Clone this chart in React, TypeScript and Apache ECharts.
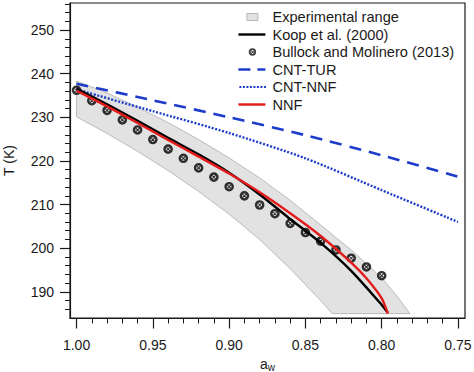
import React, { useEffect, useRef } from 'react';
import * as echarts from 'echarts';

// ---- data ----
const bmAw = [1.0, 0.99, 0.98, 0.97, 0.96, 0.95, 0.94, 0.93, 0.92, 0.91, 0.9, 0.89, 0.88, 0.87, 0.86, 0.85, 0.84, 0.83, 0.82, 0.81, 0.8];
const bmT = [236.2, 233.8, 231.6, 229.4, 227.1, 224.9, 222.7, 220.6, 218.4, 216.3, 214.1, 212.0, 209.9, 207.9, 205.7, 203.6, 201.6, 199.6, 197.7, 195.7, 193.7];

const koopAw = [1.0, 0.98, 0.96, 0.94, 0.92, 0.9, 0.88, 0.86, 0.84, 0.82, 0.8, 0.796];
const koopT = [236.6, 233.0, 229.2, 225.3, 221.5, 217.3, 212.3, 206.7, 201.2, 194.8, 187.0, 185.2];

const nnfAw = [1.0, 0.98, 0.96, 0.94, 0.92, 0.9, 0.88, 0.86, 0.84, 0.82, 0.81, 0.8, 0.796];
const nnfT = [236.1, 232.5, 228.7, 224.8, 221.0, 217.1, 212.8, 208.0, 202.8, 196.7, 193.1, 188.5, 185.0];

const turAw = [1.0, 0.95, 0.9, 0.85, 0.8, 0.75];
const turT = [237.7, 233.9, 230.0, 225.9, 221.3, 216.4];

const cntNnfAw = [1.0, 0.95, 0.9, 0.85, 0.8, 0.75];
const cntNnfT = [236.4, 231.4, 226.4, 220.6, 213.3, 206.0];

const bandUpAw = [1.0, 0.98, 0.96, 0.94, 0.92, 0.9, 0.88, 0.86, 0.84, 0.82, 0.8, 0.79, 0.7815];
const bandUpT = [238.3, 235.6, 232.3, 228.8, 224.9, 220.7, 216.1, 211.0, 205.3, 199.6, 193.2, 189.0, 185.0];
const bandLowAw = [1.0, 0.98, 0.96, 0.94, 0.92, 0.9, 0.88, 0.86, 0.84, 0.8325];
const bandLowT = [230.1, 226.3, 222.2, 217.8, 213.0, 207.8, 202.0, 195.3, 188.0, 185.0];

const xMajor = [1.0, 0.95, 0.9, 0.85, 0.8, 0.75];
const xMinor = [1.0, 0.99, 0.98, 0.97, 0.96, 0.95, 0.94, 0.93, 0.92, 0.91, 0.9, 0.89, 0.88, 0.87, 0.86, 0.85, 0.84, 0.83, 0.82, 0.81, 0.8, 0.79, 0.78, 0.77, 0.76, 0.75];
const yMajor = [190, 200, 210, 220, 230, 240, 250];
const yMinor = [186, 188, 190, 192, 194, 196, 198, 200, 202, 204, 206, 208, 210, 212, 214, 216, 218, 220, 222, 224, 226, 228, 230, 232, 234, 236, 238, 240, 242, 244, 246, 248, 250, 252, 254, 256];

const names = ['Experimental range', 'Koop et al. (2000)', 'Bullock and Molinero (2013)', 'CNT-TUR', 'CNT-NNF', 'NNF'];

const zip = (a: number[], b: number[]) => a.map((v, i) => [v, b[i]]);

const FONT = 'Liberation Sans, Arial, Helvetica, sans-serif';
const INK = '#1a1a1a';
const BLUE = '#1d3ccb';
const RED = '#e41b1b';

const markerPath =
  'path://M5,0.2 A4.8,4.8 0 1,1 5,9.8 A4.8,4.8 0 1,1 5,0.2 Z M5,2.6 A2.4,2.4 0 1,0 5,7.4 A2.4,2.4 0 1,0 5,2.6 Z M3.6,2.9 L7.1,6.4 L6.4,7.1 L2.9,3.6 Z M6.4,2.9 L7.1,3.6 L3.6,7.1 L2.9,6.4 Z';

const iconBox = 'path://M0,0 M30,14 M9.5,3.5 L20.5,3.5 L20.5,10.5 L9.5,10.5 Z';
const iconLine = 'path://M0,0 M30,14 M1,5.8 L28,5.8 L28,8.2 L1,8.2 Z';
const iconDash = 'path://M0,0 M30,14 M1,5.8 L13,5.8 L13,8.2 L1,8.2 Z M20,5.8 L28,5.8 L28,8.2 L20,8.2 Z';
const iconDot =
  'path://M0,0 M30,14 M2,6 L4,6 L4,8 L2,8 Z M5.5,6 L7.5,6 L7.5,8 L5.5,8 Z M9,6 L11,6 L11,8 L9,8 Z M12.5,6 L14.5,6 L14.5,8 L12.5,8 Z M16,6 L18,6 L18,8 L16,8 Z M19.5,6 L21.5,6 L21.5,8 L19.5,8 Z M23,6 L25,6 L25,8 L23,8 Z M26.5,6 L28.5,6 L28.5,8 L26.5,8 Z';
const iconMarker =
  'path://M0,0 M30,14 M15,3.3 A3.7,3.7 0 1,1 15,10.7 A3.7,3.7 0 1,1 15,3.3 Z M15,5.1 A1.9,1.9 0 1,0 15,8.9 A1.9,1.9 0 1,0 15,5.1 Z M14.0,5.4 L16.9,8.3 L16.3,8.9 L13.4,6.0 Z M16.3,5.4 L16.9,6.0 L14.0,8.9 L13.4,8.3 Z';

const xRange = { min: 0.7454, max: 1.0043 };
const yRange = { min: 184, max: 256.2 };

const option: any = {
  animation: false,
  backgroundColor: '#ffffff',
  textStyle: { fontFamily: FONT },
  grid: {
    left: 70,
    right: 9,
    top: 3,
    bottom: 54,
    outerBoundsMode: 'none',
    containLabel: false,
    show: true,
    borderColor: INK,
    borderWidth: 1.2,
    backgroundColor: 'transparent',
  },
  legend: {
    left: 237,
    top: 9.5,
    orient: 'vertical',
    align: 'left',
    padding: 0,
    itemWidth: 30,
    itemHeight: 14,
    itemGap: 2.5,
    selectedMode: false,
    textStyle: { fontSize: 14.6, color: INK, lineHeight: 14, fontFamily: FONT },
    data: [
      { name: names[0], icon: iconBox, itemStyle: { color: '#e2e2e2', borderColor: '#a8a8a8', borderWidth: 0.8 } },
      { name: names[1], icon: iconLine, itemStyle: { color: '#000', borderWidth: 0 } },
      { name: names[2], icon: iconMarker, itemStyle: { color: '#111', borderWidth: 0 } },
      { name: names[3], icon: iconDash, itemStyle: { color: BLUE, borderWidth: 0 } },
      { name: names[4], icon: iconDot, itemStyle: { color: BLUE, borderWidth: 0 } },
      { name: names[5], icon: iconLine, itemStyle: { color: RED, borderWidth: 0 } },
    ],
  },
  xAxis: [
    {
      type: 'value',
      inverse: true,
      ...xRange,
      position: 'bottom',
      axisLine: { show: true, onZero: false, lineStyle: { color: INK, width: 1.2 } },
      axisTick: { show: true, customValues: xMinor, length: 5.5, lineStyle: { color: INK, width: 1 } },
      axisLabel: {
        customValues: xMajor,
        formatter: (v: number) => v.toFixed(2),
        margin: 20,
        fontSize: 14,
        color: INK,
        fontFamily: FONT,
      },
      splitLine: { show: false },
      name: '{a|a}{w|w}',
      nameLocation: 'middle',
      nameGap: 33,
      nameTextStyle: {
        color: INK,
        rich: {
          a: { fontSize: 14, color: INK, fontFamily: FONT, lineHeight: 14, verticalAlign: 'top' },
          w: { fontSize: 10, color: INK, fontFamily: FONT, lineHeight: 10, padding: [6, 0, 0, 0], verticalAlign: 'top' },
        },
      },
    },
    {
      type: 'value',
      inverse: true,
      ...xRange,
      position: 'bottom',
      axisLine: { show: false, onZero: false },
      axisTick: { show: true, customValues: xMajor, length: 10.5, lineStyle: { color: INK, width: 1.2 } },
      axisLabel: { show: false },
      splitLine: { show: false },
    },
  ],
  yAxis: [
    {
      type: 'value',
      ...yRange,
      position: 'left',
      axisLine: { show: true, onZero: false, lineStyle: { color: INK, width: 1.2 } },
      axisTick: { show: true, customValues: yMinor, length: 5, lineStyle: { color: INK, width: 1 } },
      axisLabel: {
        customValues: yMajor,
        margin: 16,
        fontSize: 14,
        color: INK,
        fontFamily: FONT,
      },
      splitLine: { show: false },
      name: 'T (K)',
      nameLocation: 'middle',
      nameGap: 54,
      nameTextStyle: { fontSize: 14, color: INK, fontFamily: FONT },
    },
    {
      type: 'value',
      ...yRange,
      position: 'left',
      axisLine: { show: false, onZero: false },
      axisTick: { show: true, customValues: yMajor, length: 10, lineStyle: { color: INK, width: 1.2 } },
      axisLabel: { show: false },
      splitLine: { show: false },
    },
  ],
  series: [
    {
      name: names[0],
      type: 'custom',
      coordinateSystem: 'cartesian2d',
      xAxisIndex: 0,
      yAxisIndex: 0,
      clip: true,
      silent: true,
      data: [[0.9, 220]],
      itemStyle: { color: '#e2e2e2' },
      renderItem: (params: any, api: any) => {
        const pts: number[][] = [];
        for (let i = 0; i < bandUpAw.length; i++) pts.push(api.coord([bandUpAw[i], bandUpT[i]]));
        for (let i = bandLowAw.length - 1; i >= 0; i--) pts.push(api.coord([bandLowAw[i], bandLowT[i]]));
        return {
          type: 'polygon',
          shape: { points: pts },
          style: { fill: '#e2e2e2', stroke: '#b4b4b4', lineWidth: 0.9 },
        };
      },
    },
    {
      name: names[3],
      type: 'line',
      data: zip(turAw, turT),
      symbol: 'none',
      smooth: 0.25,
      itemStyle: { color: BLUE },
      lineStyle: { color: BLUE, width: 2.6, type: [12, 8] },
    },
    {
      name: names[4],
      type: 'line',
      data: zip(cntNnfAw, cntNnfT),
      symbol: 'none',
      smooth: 0.25,
      itemStyle: { color: BLUE },
      lineStyle: { color: BLUE, width: 2.4, type: [2, 1.6] },
    },
    {
      name: names[1],
      type: 'line',
      data: zip(koopAw, koopT),
      symbol: 'none',
      smooth: 0.25,
      itemStyle: { color: '#000' },
      lineStyle: { color: '#000', width: 2.4 },
    },
    {
      name: names[5],
      type: 'line',
      data: zip(nnfAw, nnfT),
      symbol: 'none',
      smooth: 0.25,
      itemStyle: { color: RED },
      lineStyle: { color: RED, width: 2.4 },
    },
    {
      name: names[2],
      type: 'scatter',
      data: zip(bmAw, bmT),
      symbol: markerPath,
      symbolSize: 9.6,
      itemStyle: { color: '#000' },
    },
  ],
};

export default function App() {
  const ref = useRef<HTMLDivElement>(null);
  useEffect(() => {
    document.body.style.margin = '0';
    const chart = echarts.init(ref.current as HTMLDivElement, null, { renderer: 'svg' });
    chart.setOption(option);
    return () => chart.dispose();
  }, []);
  return (
    <div
      ref={ref}
      style={{ position: 'fixed', left: 0, top: 0, width: 474, height: 372, background: '#fff' }}
    />
  );
}
